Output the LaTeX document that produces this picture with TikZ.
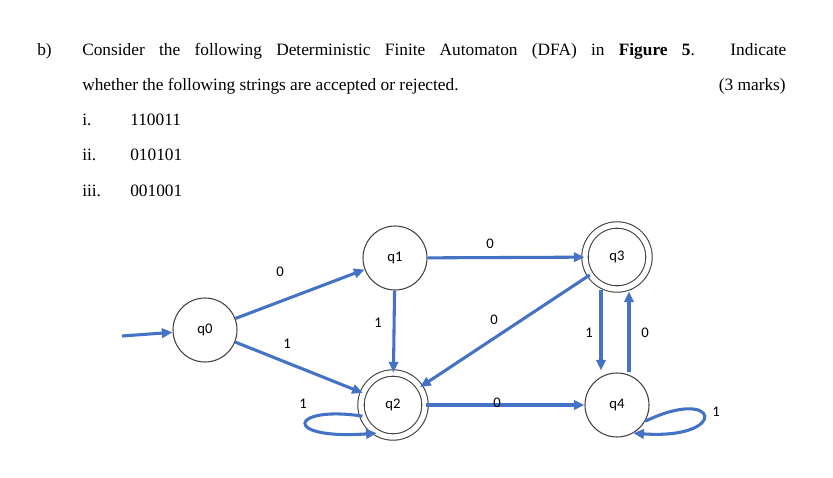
\documentclass[tikz,border=0pt]{standalone}
\usepackage{fontspec}
\setmainfont{Liberation Serif}
\newfontfamily\lbl{Carlito}
\usetikzlibrary{arrows.meta}
\definecolor{eb}{HTML}{4472C4}
\begin{document}
\begin{tikzpicture}[x=0.75pt,y=-0.75pt,
  st/.style={circle,draw=black!75,line width=0.8pt,minimum size=48pt,inner sep=0pt,font=\lbl\fontsize{11}{13}\selectfont},
  acc/.style={st,double=white,double distance=4pt},
  e/.style={draw=eb,line width=2.3pt,-{Triangle[length=8pt,width=7pt]}},
  lb/.style={font=\lbl\fontsize{11}{13}\selectfont},
  tx/.style={anchor=base west,font=\fontsize{13}{15}\selectfont,inner sep=0pt}]
\useasboundingbox (0,0) rectangle (833,478);
\node[tx] (b) at (37,56) {b)};
\node[tx] (l1) at (82,56) {\makebox[528pt][s]{Consider the following Deterministic Finite Automaton (DFA) in \textbf{Figure 5}. Indicate}};
\node[tx] (l2) at (82,91) {whether the following strings are accepted or rejected.};
\node[tx,anchor=base east] (mk) at (786,91) {(3 marks)};
\node[tx] (i1) at (82,126) {i.};
\node[tx] (s1) at (130,126) {110011};
\node[tx] (i2) at (82,161) {ii.};
\node[tx] (s2) at (130,161) {010101};
\node[tx] (i3) at (82,196) {iii.};
\node[tx] (s3) at (130,196) {001001};

\node[st] (q0) at (205,330) {q0};
\node[st] (q1) at (395,258) {q1};
\node[acc] (q3) at (617,257) {q3};
\node[acc] (q2) at (393,405) {q2};
\node[st] (q4) at (617,405) {q4};
\coordinate (s) at (122,336);
\draw[e] (s) -- (q0);
\draw[e] (q0) -- (q1);
\draw[e] (q0) -- (q2);
\draw[e] (q1) -- (q2);
\draw[e] (q1) -- (q3);
\draw[e] (q3) -- (q2);
\draw[e] (q2) -- (q4);
\draw[e] ([xshift=-12pt]q3.south) -- ([xshift=-12pt,yshift=1.5pt]q4.north);
\draw[e] ([xshift=9pt]q4.north) -- ([xshift=9pt,yshift=-1.5pt]q3.south);
\draw[e] (q2.200) .. controls (290,405) and (280,440) .. (q2.240);
\draw[e] (q4.330) .. controls (720,385) and (730,440) .. (q4.300);
\node[lb] (t1) at (280,272) {0};
\node[lb] (t2) at (287,344) {1};
\node[lb] (t3) at (378,323) {1};
\node[lb] (t4) at (490,244) {0};
\node[lb] (t5) at (494,320) {0};
\node[lb] (t6) at (497,403) {0};
\node[lb] (t7) at (589,333) {1};
\node[lb] (t8) at (645,333) {0};
\node[lb] (t9) at (303,404) {1};
\node[lb] (t10) at (716,412) {1};
\end{tikzpicture}
\end{document}
